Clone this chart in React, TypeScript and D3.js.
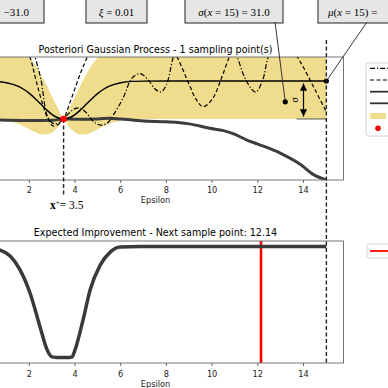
import * as d3 from "d3";

// posterior grid (x = epsilon)
const gridX = [0, 0.5, 1, 1.5, 1.75, 2, 2.25, 2.5, 2.75, 3, 3.25, 3.5, 3.75, 4, 4.25, 4.5, 4.75, 5, 5.25, 5.5, 6, 6.5, 7, 8, 9, 10, 11, 12, 13, 14, 15];
const meanVals = [-0.1, -0.3, -1.4, -4.2, -6.7, -10.1, -14.2, -18.8, -23.4, -27.4, -30.0, -31, -30.0, -27.4, -23.4, -18.8, -14.2, -10.1, -6.7, -4.2, -1.4, -0.3, -0.1, 0, 0, 0, 0, 0, 0, 0, 0];
const sigmaVals = [31, 31, 31, 30.7, 30.3, 29.3, 27.6, 24.6, 20.3, 14.6, 7.7, 0, 7.7, 14.6, 20.3, 24.6, 27.6, 29.3, 30.3, 30.7, 31, 31, 31, 31, 31, 31, 31, 31, 31, 31, 31];

// true function
const trueX = [0, 1, 2, 3, 3.5, 4, 5, 5.5, 6, 7, 8, 8.6, 9, 9.9, 10.5, 11, 11.5, 12, 13, 13.9, 14.4, 15];
const trueVals = [-31.5, -32, -32.3, -32, -31, -31.2, -31, -30.3, -31, -32.6, -33.3, -34, -35, -38.6, -40.5, -43.5, -48, -51.5, -59, -68.5, -76, -80.8];

// posterior samples
const sampleAX = [1.5, 2.03, 2.3, 2.6, 2.82, 3.04, 3.3, 3.5, 3.75, 4, 4.25, 4.5, 5, 5.5, 6, 6.5, 7, 7.5, 8, 8.47, 9, 9.3, 9.6, 10, 10.4, 10.75, 11, 11.5, 12, 12.5, 13, 13.5, 13.73, 14, 14.5, 15];
const sampleAVals = [45, 19.6, 0, -20, -31, -36.7, -35, -31, -19, -6, 7, 18, 38, 50, 57, 60, 57, 48, 35, 19.6, -3, -15, -21, -15, 2, 19.6, 30, 42, 48, 46, 38, 26, 19.6, 11, -7, -25.3];
const sampleBX = [1.9, 2.25, 2.5, 2.82, 3.1, 3.3, 3.5, 3.75, 4, 4.2, 4.5, 4.8, 5.1, 5.4, 5.7, 6.1, 6.5, 6.85, 7.2, 7.5, 7.75, 8, 8.3, 8.6, 9, 9.5, 10, 10.5, 11, 11.1, 11.5, 11.9, 12.2, 12.46, 13, 13.5, 14, 14.5, 15];
const sampleBVals = [40, 19.6, 2, -30, -35, -34, -31, -26, -22.5, -22, -26, -33, -36, -34.5, -27, -14, 2.5, 6, 1, -6.5, -9, -3, 19.6, 35, 48, 55, 52, 40, 24, 19.6, 0, -9, 0, 19.6, 40, 52, 58, 60, 58];

// expected improvement
const eiX = [0, 0.72, 1.16, 1.6, 2.03, 2.47, 2.78, 3.0, 3.25, 3.5, 3.75, 3.87, 4.0, 4.35, 4.66, 5.1, 5.54, 5.97, 6.85, 8, 10, 12, 14, 15];
const eiVals = [0.99, 0.968, 0.914, 0.788, 0.581, 0.275, 0.068, 0.005, 0, 0, 0, 0.005, 0.068, 0.338, 0.608, 0.833, 0.95, 0.995, 1, 1, 1, 1, 1, 1];

const sampledX = 3.5;
const sampledY = -31;
const nextPoint = 12.14;
const lastX = 15;
const xTicks = [2, 4, 6, 8, 10, 12, 14];

const W = 388;
const H = 388;
const top = { t: 57, b: 180 };
const bot = { t: 241, b: 363 };
const axL = -33.5;
const axR = 343.5;

export default function App() {
  const x = d3.scaleLinear().domain([-0.75, 15.75]).range([axL, axR]);
  const y = d3.scaleLinear().domain([-80.8, 19.6]).range([top.b, top.t]);
  const yE = d3.scaleLinear().domain([-0.05, 1.05]).range([bot.b, bot.t]);

  const band = d3
    .area<number>()
    .x((_, i) => x(gridX[i]))
    .y0((_, i) => y(meanVals[i] - sigmaVals[i]))
    .y1((_, i) => y(meanVals[i] + sigmaVals[i]))
    .curve(d3.curveMonotoneX);
  const mkLine = (xs: number[], ys: number[], sc: d3.ScaleLinear<number, number>, curve = d3.curveMonotoneX) =>
    d3
      .line<number>()
      .x((_, i) => x(xs[i]))
      .y((v) => sc(v))
      .curve(curve)(ys) ?? "";

  const sans = "DejaVu Sans, sans-serif";
  const serif = "Liberation Serif, DejaVu Serif, serif";
  const x15 = x(lastX);
  const xp = x(sampledX);
  const arrowX = x(14);

  return (
    <div style={{ position: "fixed", left: 0, top: 0 }}>
      <svg width={W} height={H} style={{ display: "block", background: "#fff" }}>
        <defs>
          <clipPath id="clipTop">
            <rect x={axL} y={top.t} width={axR - axL} height={top.b - top.t} />
          </clipPath>
          <clipPath id="clipBot">
            <rect x={axL} y={bot.t} width={axR - axL} height={bot.b - bot.t} />
          </clipPath>
          <marker id="ah" viewBox="0 0 10 10" refX="10" refY="5" markerWidth="6" markerHeight="6" orient="auto-start-reverse">
            <path d="M0,0 L10,5 L0,10 z" fill="#000" />
          </marker>
        </defs>

        {/* top boxes */}
        <g fontFamily={serif} fontSize={11} fill="#000">
          <rect x={-20} y={-1} width={64} height={24} fill="#e6e6e6" stroke="#222" strokeWidth={1} />
          <text x={29} y={16} textAnchor="end">−31.0</text>
          <rect x={86} y={-1} width={61} height={24} fill="#e6e6e6" stroke="#222" strokeWidth={1} />
          <text x={116.5} y={16} textAnchor="middle">
            <tspan fontStyle="italic">ξ</tspan> = 0.01
          </text>
          <rect x={185} y={-1} width={98} height={24} fill="#e6e6e6" stroke="#222" strokeWidth={1} />
          <text x={234} y={16} textAnchor="middle">
            <tspan fontStyle="italic">σ</tspan>(<tspan fontStyle="italic">x</tspan> = 15) = 31.0
          </text>
          <rect x={318} y={-1} width={90} height={24} fill="#e6e6e6" stroke="#222" strokeWidth={1} />
          <text x={328} y={16}>
            <tspan fontStyle="italic">μ</tspan>(<tspan fontStyle="italic">x</tspan> = 15) =
          </text>
        </g>

        {/* top axes */}
        <text x={155.5} y={53} textAnchor="middle" fontFamily={sans} fontSize={9.6}>
          Posteriori Gaussian Process - 1 sampling point(s)
        </text>
        <g clipPath="url(#clipTop)">
          <path d={band(gridX) ?? ""} fill="#efdc8c" />
          <path d={mkLine(trueX, trueVals, y)} fill="none" stroke="#3d3d3d" strokeWidth={3} />
          <path d={mkLine(gridX, meanVals, y)} fill="none" stroke="#000" strokeWidth={1.4} />
          <path d={mkLine(sampleAX, sampleAVals, y, d3.curveCatmullRom)} fill="none" stroke="#000" strokeWidth={1.2} strokeDasharray="4,2.5" />
          <path d={mkLine(sampleBX, sampleBVals, y, d3.curveCatmullRom)} fill="none" stroke="#000" strokeWidth={1.2} strokeDasharray="5,2,1.2,2" />
        </g>
        <rect x={axL} y={top.t} width={axR - axL} height={top.b - top.t} fill="none" stroke="#666" strokeWidth={0.9} />

        {/* sigma annotation */}
        <line x1={x(13.7)} x2={x15} y1={y(-31)} y2={y(-31)} stroke="#555" strokeWidth={1} />
        <line x1={arrowX} x2={arrowX} y1={y(-2)} y2={y(-29)} stroke="#000" strokeWidth={1.2} markerStart="url(#ah)" markerEnd="url(#ah)" />
        <text transform={`translate(${arrowX - 6},${y(-15.5)}) rotate(-90)`} textAnchor="middle" fontFamily={serif} fontStyle="italic" fontSize={10}>σ</text>
        <line x1={x(13.2)} y1={y(-17)} x2={275} y2={22} stroke="#222" strokeWidth={0.9} />
        <circle cx={x(13.2)} cy={y(-17)} r={2.6} fill="#000" />
        <line x1={x15} y1={y(0)} x2={367} y2={22} stroke="#222" strokeWidth={0.9} />
        <circle cx={x15} cy={y(0)} r={2.6} fill="#000" />

        {/* sampled point */}
        <line x1={xp} x2={xp} y1={y(sampledY)} y2={197} stroke="#222" strokeWidth={1.4} strokeDasharray="4,2.5" />
        <circle cx={xp} cy={y(sampledY)} r={3.2} fill="#ff0000" />
        <text x={50} y={209} fontFamily={serif} fontSize={11.5}>
          <tspan fontWeight="bold">x</tspan>
          <tspan fontSize={7} dy={-4}>+</tspan>
          <tspan dy={4}>= 3.5</tspan>
        </text>

        {/* x axis top */}
        <g fontFamily={sans} fontSize={8.2} fill="#222">
          {xTicks.map((t) => (
            <g key={"t" + t}>
              <line x1={x(t)} x2={x(t)} y1={top.b} y2={top.b + 3} stroke="#444" strokeWidth={0.8} />
              <text x={x(t)} y={193} textAnchor="middle">{t}</text>
            </g>
          ))}
          <text x={155.5} y={202.5} textAnchor="middle">Epsilon</text>
        </g>

        {/* bottom axes */}
        <text x={155.5} y={236} textAnchor="middle" fontFamily={sans} fontSize={9.6}>
          Expected Improvement - Next sample point: 12.14
        </text>
        <g clipPath="url(#clipBot)">
          <line x1={x(nextPoint)} x2={x(nextPoint)} y1={bot.t} y2={bot.b} stroke="#ff0000" strokeWidth={2.6} />
          <path d={mkLine(eiX, eiVals, yE)} fill="none" stroke="#3a3a3a" strokeWidth={3.5} />
        </g>
        <rect x={axL} y={bot.t} width={axR - axL} height={bot.b - bot.t} fill="none" stroke="#666" strokeWidth={0.9} />
        <g fontFamily={sans} fontSize={8.2} fill="#222">
          {xTicks.map((t) => (
            <g key={"b" + t}>
              <line x1={x(t)} x2={x(t)} y1={bot.b} y2={bot.b + 3} stroke="#444" strokeWidth={0.8} />
              <text x={x(t)} y={377} textAnchor="middle">{t}</text>
            </g>
          ))}
          <text x={155.5} y={386.5} textAnchor="middle">Epsilon</text>
        </g>

        {/* x = 15 marker line */}
        <line x1={x15} x2={x15} y1={40} y2={bot.b} stroke="#222" strokeWidth={1.4} strokeDasharray="4,2.5" />

        {/* legends */}
        <rect x={366} y={63} width={40} height={73} rx={2.5} fill="#fff" stroke="#d0d0d0" strokeWidth={0.9} />
        <g>
          <line x1={370} x2={392} y1={68.3} y2={68.3} stroke="#000" strokeWidth={1.2} strokeDasharray="5,2,1.2,2" />
          <line x1={370} x2={392} y1={80} y2={80} stroke="#000" strokeWidth={1.2} strokeDasharray="4,2.5" />
          <line x1={370} x2={392} y1={91.7} y2={91.7} stroke="#333" strokeWidth={1.8} />
          <line x1={370} x2={392} y1={103.3} y2={103.3} stroke="#333" strokeWidth={1.8} />
          <rect x={370} y={113} width={16} height={6} fill="#efdc8c" />
          <circle cx={378} cy={128.3} r={2.8} fill="#ff0000" />
        </g>
        <rect x={367} y={244} width={40} height={14} rx={2.5} fill="#fff" stroke="#d0d0d0" strokeWidth={0.9} />
        <line x1={370} x2={392} y1={251} y2={251} stroke="#ff0000" strokeWidth={1.8} />
      </svg>
    </div>
  );
}
